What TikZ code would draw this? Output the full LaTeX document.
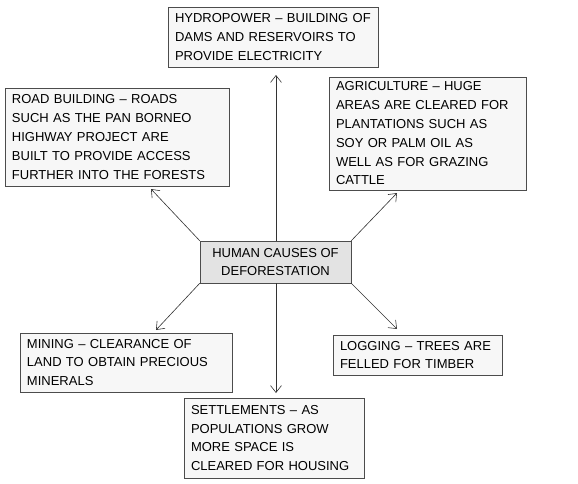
\documentclass[tikz,border=0pt]{standalone}
\usepackage{fontspec}
\setmainfont{Liberation Sans}
\usetikzlibrary{arrows.meta}
\begin{document}
\begin{tikzpicture}[x=1pt, y=-1pt,
    cause/.style={draw=gray!60!black, fill=gray!6, align=left, inner xsep=7pt,
        font=\fontsize{13}{18.8}\selectfont},
    hub/.style={draw=gray!60!black, fill=gray!22, align=center,
        minimum width=151pt, minimum height=42pt, inner sep=2pt,
        font=\fontsize{13}{18.8}\selectfont},
    link/.style={draw=gray!40!black, line width=0.6pt,
        -{Straight Barb[length=7pt, width=11pt, line width=0.6pt]}}]
\useasboundingbox (0,0) rectangle (578,483);

% Centre
\node[hub] (hub) at (275.5,262) {HUMAN CAUSES OF\\DEFORESTATION};

% Causes
\node[cause, text width=196pt, minimum height=60pt] (hydro) at (273,37)
    {HYDROPOWER -- BUILDING OF\\DAMS AND RESERVOIRS TO\\PROVIDE ELECTRICITY};
\node[cause, text width=210pt, minimum height=98pt] (road) at (117,137)
    {ROAD BUILDING -- ROADS\\SUCH AS THE PAN BORNEO\\HIGHWAY PROJECT ARE\\BUILT TO PROVIDE ACCESS\\FURTHER INTO THE FORESTS};
\node[cause, text width=183pt, minimum height=113pt] (agri) at (427.5,133.5)
    {AGRICULTURE -- HUGE\\AREAS ARE CLEARED FOR\\PLANTATIONS SUCH AS\\SOY OR PALM OIL AS\\WELL AS FOR GRAZING\\CATTLE};
\node[cause, text width=198pt, minimum height=59pt] (mining) at (126,362.5)
    {MINING -- CLEARANCE OF\\LAND TO OBTAIN PRECIOUS\\MINERALS};
\node[cause, text width=155pt, minimum height=40pt] (logging) at (417.5,355)
    {LOGGING -- TREES ARE\\FELLED FOR TIMBER};
\node[cause, text width=166pt, minimum height=80pt] (settle) at (274,438)
    {SETTLEMENTS -- AS\\POPULATIONS GROW\\MORE SPACE IS\\CLEARED FOR HOUSING};

% Arrow tips
\coordinate (tHydro) at (276,75);
\coordinate (tRoad) at (151,189);
\coordinate (tAgri) at (397,193);
\coordinate (tMining) at (156,330);
\coordinate (tLogging) at (397,329);
\coordinate (tSettle) at (276,393);

% Arrows
\draw[link] (hub.north -| tHydro) -- (tHydro);
\draw[link] (hub.north west) -- (tRoad);
\draw[link] (hub.north east) -- (tAgri);
\draw[link] (hub.south west) -- (tMining);
\draw[link] (hub.south east) -- (tLogging);
\draw[link] (hub.south -| tSettle) -- (tSettle);
\end{tikzpicture}
\end{document}
